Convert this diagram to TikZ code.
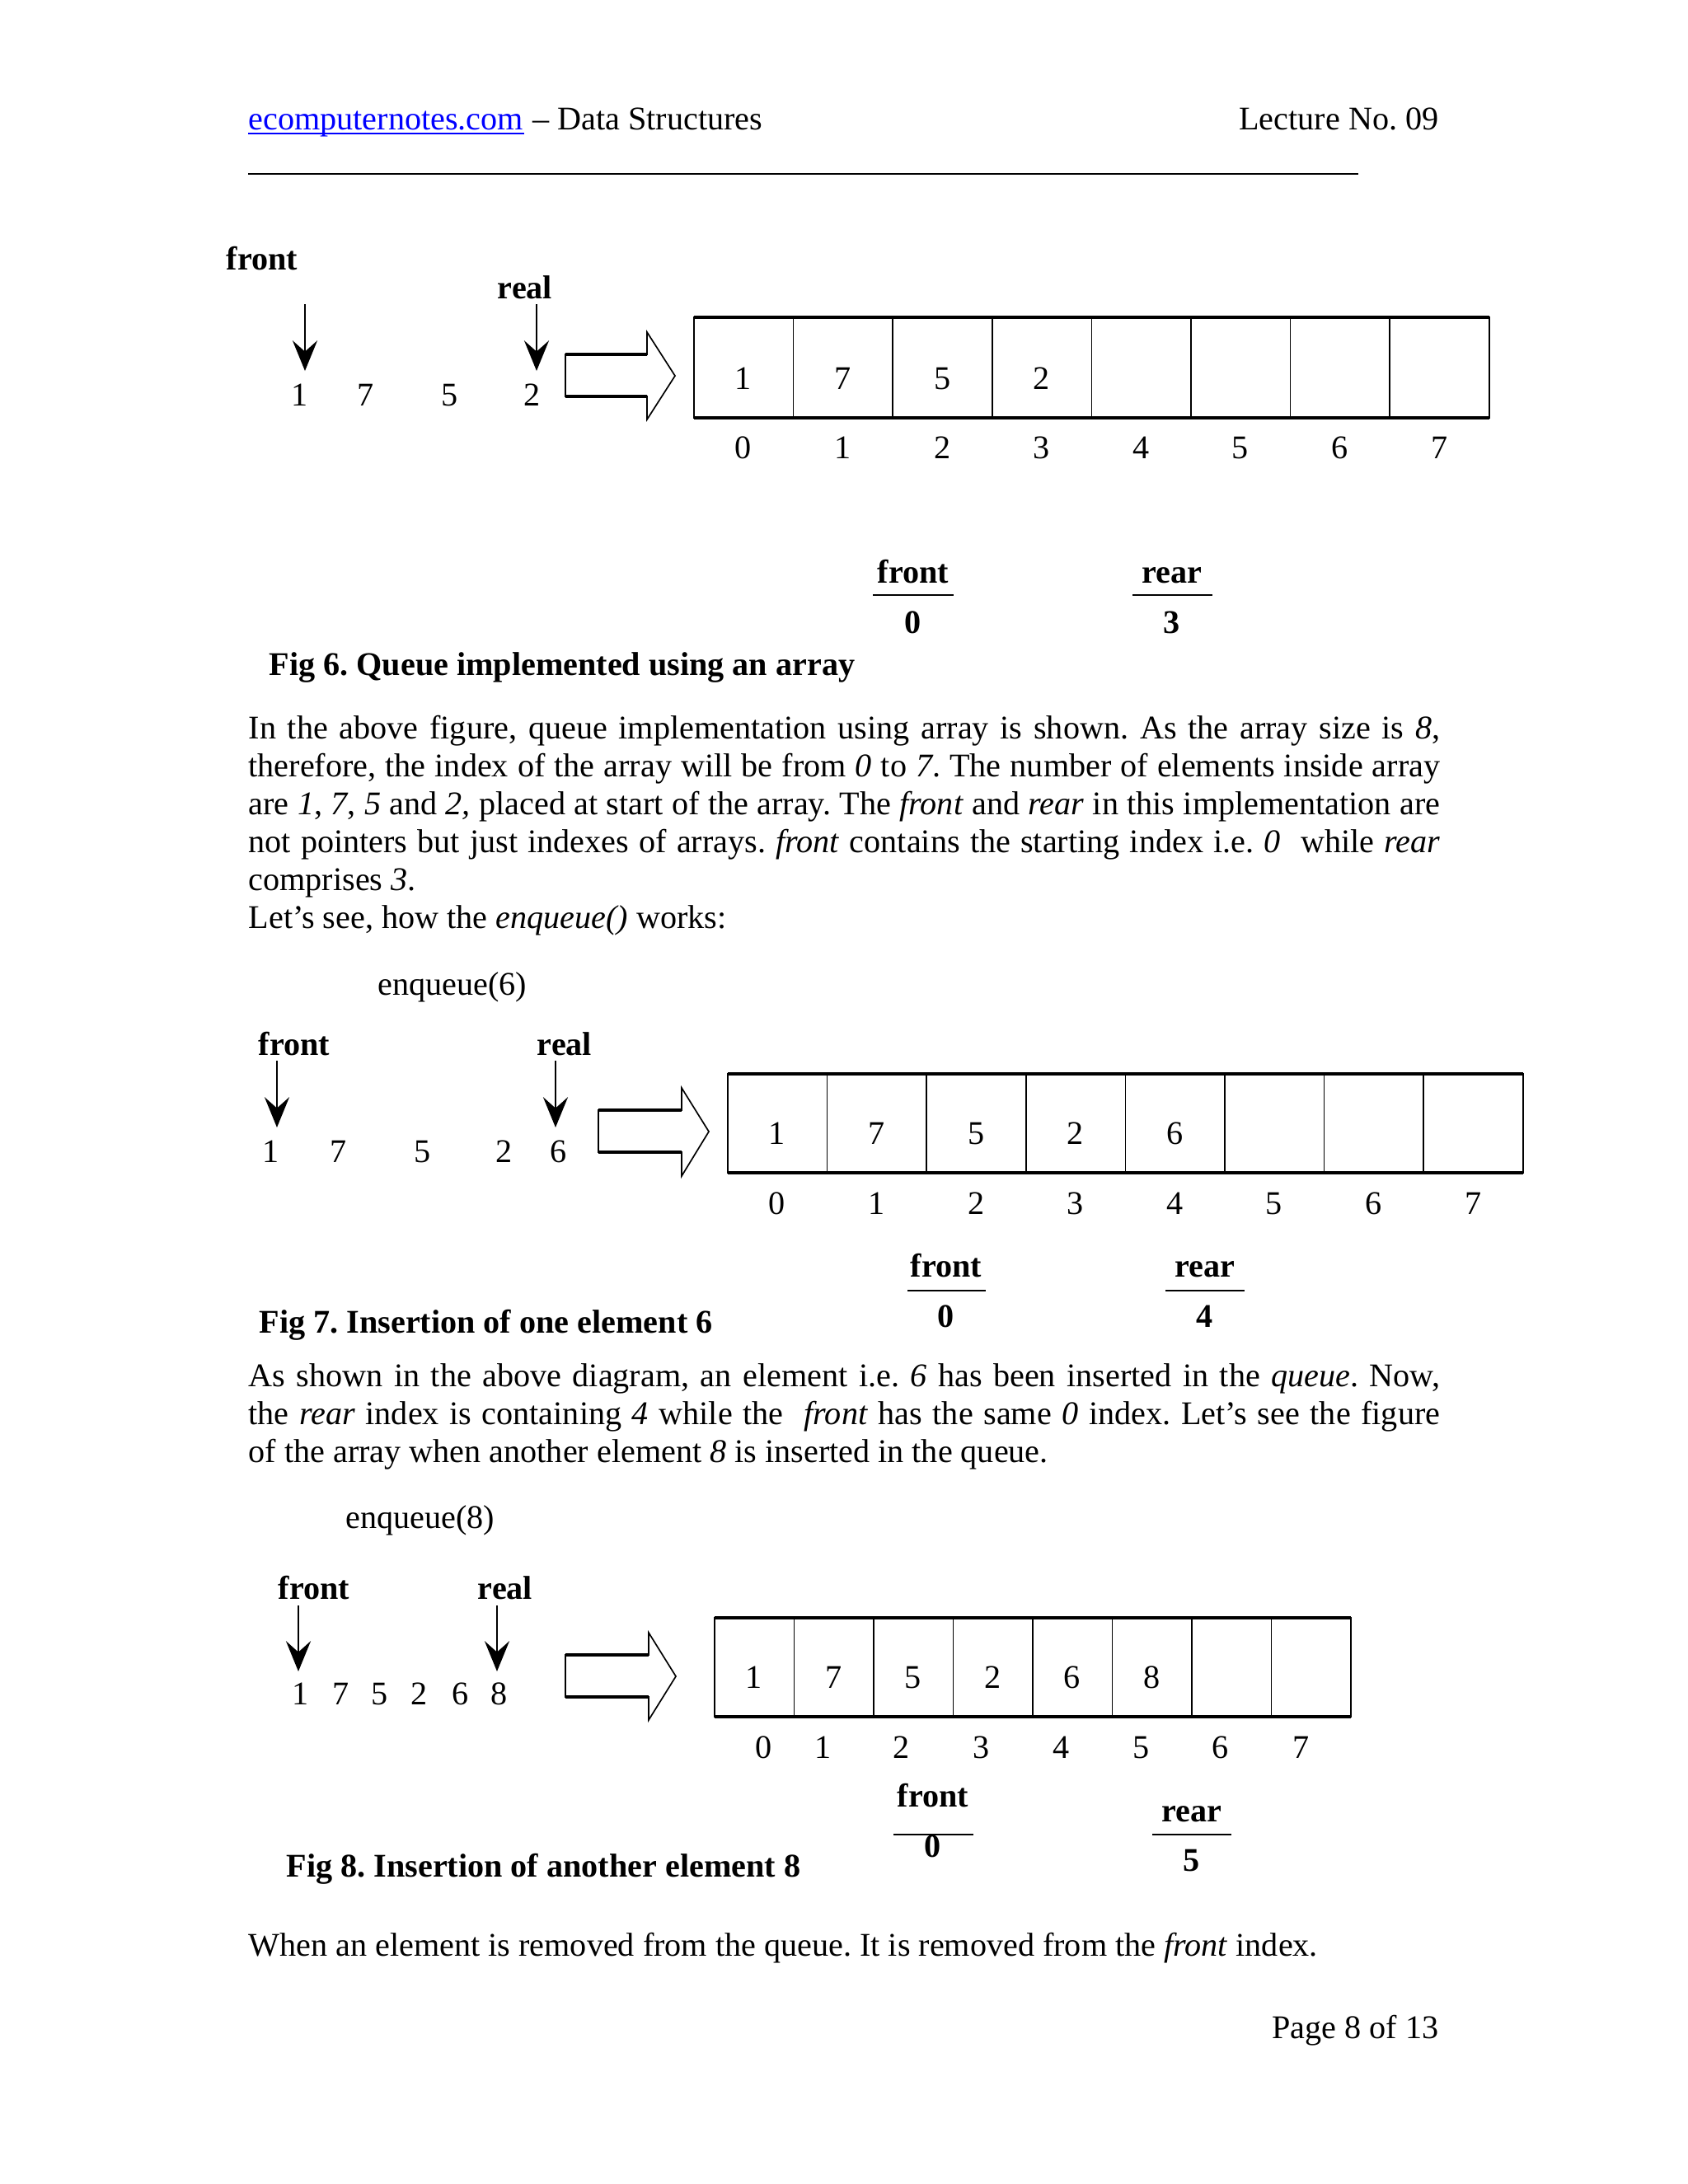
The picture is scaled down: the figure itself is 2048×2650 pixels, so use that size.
\documentclass[tikz,border=0pt]{standalone}
\usepackage{fontspec}
\setmainfont{Liberation Serif}
\usetikzlibrary{arrows.meta}
\definecolor{linkblue}{RGB}{0,0,255}
\frenchspacing
\tikzset{
  txt/.style={inner sep=0pt, anchor=base west, font=\fontsize{12}{13.8}\selectfont\frenchspacing},
  txtr/.style={inner sep=0pt, anchor=base east, font=\fontsize{12}{13.8}\selectfont\frenchspacing},
  lbl/.style={inner sep=0pt, anchor=base, font=\fontsize{12}{13.8}\selectfont\bfseries},
  figcap/.style={inner sep=0pt, anchor=base west, font=\fontsize{12}{13.8}\selectfont\bfseries\frenchspacing},
  num/.style={inner sep=0pt, anchor=base, font=\fontsize{12}{13.8}\selectfont},
  ptr/.style={-{Stealth[length=11pt,width=9pt,inset=4pt]}, line width=0.5pt},
  cellv/.style={line width=0.5pt},
  cellh/.style={line width=1pt},
  bar/.style={line width=0.8pt},
  barrow/.style={line width=0.5pt, line join=miter},
  bbody/.style={line width=1pt}
}
\newcommand{\jline}[1]{\hbox to 432pt{#1}}
\begin{document}
\begin{tikzpicture}[x=0.298828pt, y=-0.298828pt]
\useasboundingbox[fill=white] (0,0) rectangle (2048,2650);

% header
\node[txt, text=linkblue] (hdlink) at (301,157) {ecomputernotes.com};
\node[txt] (hdl) at (hdlink.base east) {\ -- Data Structures};
\draw[linkblue, line width=0.6pt] ([yshift=-1.6pt]hdlink.base west) -- ([yshift=-1.6pt]hdlink.base east);
\node[txtr] (hdr) at (1746,157) {Lecture No. 09};
\coordinate (hr1) at (301,211);
\coordinate (hr2) at (1648,211);
\draw[line width=0.6pt] (hr1) -- (hr2);

% ================= Fig 6 =================
\node[lbl] (f6front) at (318,327) {front};
\node[lbl] (f6real) at (637,362) {real};
\coordinate (f6fa) at (370,369); \coordinate (f6fb) at (370,450);
\coordinate (f6ra) at (651,369); \coordinate (f6rb) at (651,450);
\draw[ptr] (f6fa) -- (f6fb);
\draw[ptr] (f6ra) -- (f6rb);
\foreach \v/\x [count=\i] in {1/364,7/444,5/546,2/646}
  \node[num] (f6n\i) at (\x,492) {\v};
% block arrow
\draw[barrow] (686,430) -- (785,430) -- (785,403) -- (819,456) -- (785,509) -- (785,481) -- (686,481) -- cycle;
\draw[bbody] (686,430) -- (785,430);
\draw[bbody] (686,481) -- (785,481);
% array
\foreach \i in {0,...,7}
  \draw[cellv] ({842+\i*120.6},385) rectangle ++(120.6,122);
\draw[cellh] (842,385) -- (1807,385);
\draw[cellh] (842,507) -- (1807,507);
\foreach \v [count=\i from 0] in {1,7,5,2}
  \node[num] (f6c\i) at ({902+\i*120.6},472) {\v};
\foreach \i in {0,...,7}
  \node[num] (f6i\i) at ({902+\i*120.6},556) {\i};
% front / rear
\node[lbl] (f6fl) at (1108,707) {front};
\draw[bar] (1059,722) -- (1157,722);
\node[lbl] (f6fv) at (1108,768) {0};
\node[lbl] (f6rl) at (1422,707) {rear};
\draw[bar] (1374,722) -- (1471,722);
\node[lbl] (f6rv) at (1422,768) {3};
\node[figcap] (f6cap) at (326,819) {Fig 6. Queue implemented using an array};

% paragraph 1
\node[txt] (p1) at (301,896) {\jline{In the above figure, queue implementation using array is shown. As the array size is \textit{8},}};
\node[txt] (p2) at (301,942) {\jline{therefore, the index of the array will be from \textit{0} to \textit{7}. The number of elements inside array}};
\node[txt] (p3) at (301,988) {\jline{are \textit{1}, \textit{7}, \textit{5} and \textit{2,} placed at start of the array. The \textit{front} and \textit{rear} in this implementation are}};
\node[txt] (p4) at (301,1034) {\jline{not pointers but just indexes of arrays. \textit{front} contains the starting index i.e. \textit{0} \ while \textit{rear}}};
\node[txt] (p5) at (301,1080) {comprises \textit{3}.};
\node[txt] (p6) at (301,1126) {Let’s see, how the \textit{enqueue()} works:};

% ================= Fig 7 =================
\node[txt] (enq6) at (458,1207) {enqueue(6)};
\node[lbl] (f7front) at (357,1280) {front};
\node[lbl] (f7real) at (685,1280) {real};
\coordinate (f7fa) at (336,1287); \coordinate (f7fb) at (336,1368);
\coordinate (f7ra) at (674,1287); \coordinate (f7rb) at (674,1368);
\draw[ptr] (f7fa) -- (f7fb);
\draw[ptr] (f7ra) -- (f7rb);
\foreach \v/\x [count=\i] in {1/329,7/411,5/513,2/612,6/678}
  \node[num] (f7n\i) at (\x,1410) {\v};
\draw[barrow] (726,1347) -- (827,1347) -- (827,1320) -- (860,1373) -- (827,1427) -- (827,1398) -- (726,1398) -- cycle;
\draw[bbody] (726,1347) -- (827,1347);
\draw[bbody] (726,1398) -- (827,1398);
\foreach \i in {0,...,7}
  \draw[cellv] ({883+\i*120.6},1303) rectangle ++(120.6,120);
\draw[cellh] (883,1303) -- (1848,1303);
\draw[cellh] (883,1423) -- (1848,1423);
\foreach \v [count=\i from 0] in {1,7,5,2,6}
  \node[num] (f7c\i) at ({943+\i*120.6},1388) {\v};
\foreach \i in {0,...,7}
  \node[num] (f7i\i) at ({943+\i*120.6},1473) {\i};
\node[lbl] (f7fl) at (1148,1549) {front};
\draw[bar] (1101,1566) -- (1196,1566);
\node[lbl] (f7fv) at (1148,1610) {0};
\node[lbl] (f7rl) at (1462,1549) {rear};
\draw[bar] (1414,1566) -- (1510,1566);
\node[lbl] (f7rv) at (1462,1610) {4};
\node[figcap] (f7cap) at (314,1617) {Fig 7. Insertion of one element 6};

% paragraph 2
\node[txt] (q1) at (301,1682) {\jline{As shown in the above diagram, an element i.e. \textit{6} has been inserted in the \textit{queue}. Now,}};
\node[txt] (q2) at (301,1728) {\jline{the \textit{rear} index is containing \textit{4} while the \ \textit{front} has the same \textit{0} index. Let’s see the figure}};
\node[txt] (q3) at (301,1774) {of the array when another element \textit{8} is inserted in the queue.};

% ================= Fig 8 =================
\node[txt] (enq8) at (419,1854) {enqueue(8)};
\node[lbl] (f8front) at (381,1940) {front};
\node[lbl] (f8real) at (613,1940) {real};
\coordinate (f8fa) at (362,1948); \coordinate (f8fb) at (362,2028);
\coordinate (f8ra) at (603,1948); \coordinate (f8rb) at (603,2028);
\draw[ptr] (f8fa) -- (f8fb);
\draw[ptr] (f8ra) -- (f8rb);
\foreach \v/\x [count=\i] in {1/365,7/414,5/461,2/509,6/559,8/606}
  \node[num] (f8n\i) at (\x,2068) {\v};
\draw[barrow] (686,2008) -- (787,2008) -- (787,1981) -- (820,2034) -- (787,2087) -- (787,2059) -- (686,2059) -- cycle;
\draw[bbody] (686,2008) -- (787,2008);
\draw[bbody] (686,2059) -- (787,2059);
\foreach \i in {0,...,7}
  \draw[cellv] ({867+\i*96.5},1963) rectangle ++(96.5,120);
\draw[cellh] (867,1963) -- (1639,1963);
\draw[cellh] (867,2083) -- (1639,2083);
\foreach \v [count=\i from 0] in {1,7,5,2,6,8}
  \node[num] (f8c\i) at ({915+\i*96.5},2048) {\v};
\foreach \x [count=\i from 0] in {927,999,1094,1191,1288,1385,1481,1579}
  \node[num] (f8i\i) at (\x,2133) {\i};
\node[lbl] (f8fl) at (1132,2192) {front};
\draw[bar] (1084,2226) -- (1181,2226);
\node[lbl] (f8fv) at (1132,2253) {0};
\node[lbl] (f8rl) at (1446,2210) {rear};
\draw[bar] (1398,2226) -- (1494,2226);
\node[lbl] (f8rv) at (1446,2270) {5};
\node[figcap] (f8cap) at (347,2277) {Fig 8. Insertion of another element 8};

\node[txt] (last) at (301,2373) {When an element is removed from the queue. It is removed from the \textit{front} index.};
\node[txtr] (foot) at (1746,2473) {Page 8 of 13};
\end{tikzpicture}
\end{document}
